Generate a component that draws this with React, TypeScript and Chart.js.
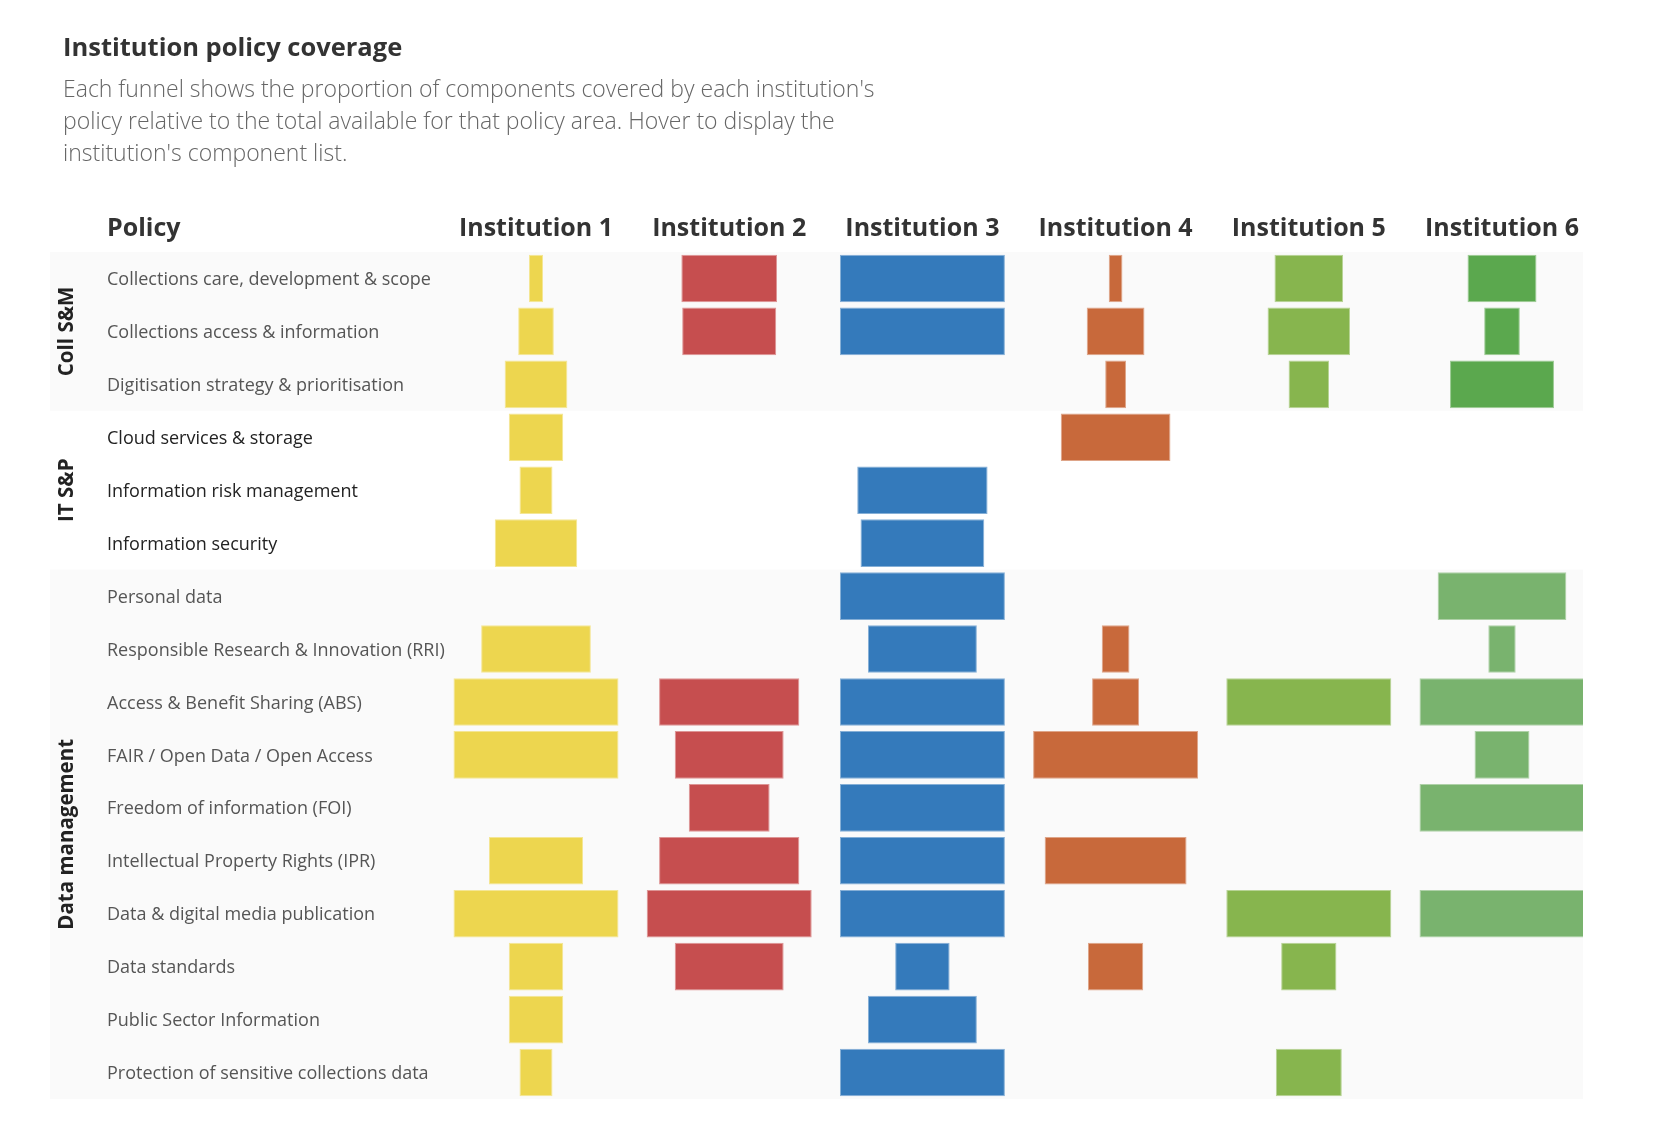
import React, { useEffect, useRef } from "react";
import { Chart, registerables } from "chart.js";

Chart.register(...registerables);

const titleText = "Institution policy coverage";
const subtitleLines = [
  "Each funnel shows the proportion of components covered by each institution's",
  "policy relative to the total available for that policy area. Hover to display the",
  "institution's component list.",
];

const institutions = [
  "Institution 1",
  "Institution 2",
  "Institution 3",
  "Institution 4",
  "Institution 5",
  "Institution 6",
];

const policies = [
  "Collections care, development & scope",
  "Collections access & information",
  "Digitisation strategy & prioritisation",
  "Cloud services & storage",
  "Information risk management",
  "Information security",
  "Personal data",
  "Responsible Research & Innovation (RRI)",
  "Access & Benefit Sharing (ABS)",
  "FAIR / Open Data / Open Access",
  "Freedom of information (FOI)",
  "Intellectual Property Rights (IPR)",
  "Data & digital media publication",
  "Data standards",
  "Public Sector Information",
  "Protection of sensitive collections data",
];

const groupNames = ["Coll S&M", "IT S&P", "Data management"];
const groupStart = [0, 3, 6];
const groupEnd = [2, 5, 15];

// coverage fraction (0..1) per policy row; null = not covered
const inst1 = [0.085, 0.216, 0.38, 0.33, 0.2, 0.5, null, 0.665, 1, 1, null, 0.57, 1, 0.33, 0.33, 0.2];
const inst2 = [0.58, 0.57, null, null, null, null, null, null, 0.85, 0.66, 0.49, 0.85, 1, 0.66, null, null];
const inst3 = [1, 1, null, null, 0.79, 0.75, 1, 0.66, 1, 1, 1, 1, 1, 0.33, 0.66, 1];
const inst4 = [0.083, 0.35, 0.126, 0.665, null, null, null, 0.168, 0.285, 1, null, 0.86, null, 0.335, null, null];
const inst5 = [0.416, 0.5, 0.245, null, null, null, null, null, 1, null, null, null, 1, 0.335, null, 0.4];
const inst6 = [0.418, 0.216, 0.63, null, null, null, 0.78, 0.166, 1, 0.333, 1, null, 1, null, null, null];

const coverage = [inst1, inst2, inst3, inst4, inst5, inst6];

// per-institution colours, by group (Coll S&M, IT S&P, Data management)
const instColors = [
  ["#EDD64F", "#EDD64F", "#EDD64F"],
  ["#C64E4F", "#C64E4F", "#C64E4F"],
  ["#347ABB", "#347ABB", "#347ABB"],
  ["#C8693B", "#C8693B", "#C8693B"],
  ["#87B54E", "#87B54E", "#87B54E"],
  ["#5BA84E", "#79B36E", "#79B36E"],
];

const FULL = 0.854; // full funnel width in column units
const W = 1666;
const H = 1130;

function groupOf(row: number) {
  for (let g = 0; g < groupNames.length; g++) {
    if (row >= groupStart[g] && row <= groupEnd[g]) return g;
  }
  return 0;
}

function tint(hex: string, amt: number) {
  const n = parseInt(hex.slice(1), 16);
  const r = (n >> 16) & 255, g = (n >> 8) & 255, b = n & 255;
  const m = (c: number) => Math.round(c + (255 - c) * amt);
  return `rgb(${m(r)},${m(g)},${m(b)})`;
}

const FONT = "'Open Sans', 'Noto Sans', sans-serif";

const decorPlugin = {
  id: "decor",
  beforeDatasetsDraw(chart: any) {
    const { ctx, chartArea, scales } = chart;
    const y = scales.y;
    const step = y.getPixelForValue(1) - y.getPixelForValue(0);
    ctx.save();
    for (let g = 0; g < groupNames.length; g++) {
      if (g % 2 === 1) continue;
      const top = y.getPixelForValue(groupStart[g]) - step / 2;
      const bot = y.getPixelForValue(groupEnd[g]) + step / 2;
      ctx.fillStyle = "#FAFAFA";
      ctx.fillRect(chartArea.left, top, chartArea.right - chartArea.left, bot - top);
    }
    ctx.restore();
  },
  afterDraw(chart: any) {
    const { ctx, scales } = chart;
    const x = scales.x;
    const y = scales.y;
    const step = y.getPixelForValue(1) - y.getPixelForValue(0);
    ctx.save();
    // title
    ctx.textAlign = "left";
    ctx.textBaseline = "alphabetic";
    ctx.fillStyle = "#333333";
    ctx.font = `bold 25.5px ${FONT}`;
    ctx.fillText(titleText, 63, 56);
    ctx.fillStyle = "#666666";
    ctx.font = `300 23px ${FONT}`;
    subtitleLines.forEach((l, i) => ctx.fillText(l, 63, 97 + i * 32));

    // headers
    const headerY = y.getPixelForValue(0) - step / 2 - 16;
    ctx.fillStyle = "#333333";
    ctx.font = `bold 25px ${FONT}`;
    ctx.textAlign = "left";
    ctx.fillText("Policy", 107, headerY);
    ctx.textAlign = "center";
    institutions.forEach((name, i) => {
      ctx.fillText(name, x.getPixelForValue(i), headerY);
    });

    // row labels
    ctx.textAlign = "left";
    ctx.textBaseline = "middle";
    ctx.font = `18px ${FONT}`;
    policies.forEach((p, i) => {
      const g = groupOf(i);
      ctx.fillStyle = g === 1 ? "#222222" : "#555555";
      ctx.fillText(p, 107, y.getPixelForValue(i) + 1.5);
    });

    // group labels
    ctx.font = `bold 20.5px ${FONT}`;
    ctx.fillStyle = "#222222";
    groupNames.forEach((gname, g) => {
      const cy = (y.getPixelForValue(groupStart[g]) + y.getPixelForValue(groupEnd[g])) / 2;
      ctx.save();
      ctx.translate(67, cy);
      ctx.rotate(-Math.PI / 2);
      ctx.textAlign = "center";
      ctx.textBaseline = "middle";
      ctx.fillText(gname, 0, 0);
      ctx.restore();
    });
    ctx.restore();
  },
};

export default function App() {
  const ref = useRef<HTMLCanvasElement | null>(null);
  useEffect(() => {
    if (!ref.current) return;
    const datasets = coverage.map((vals, i) => ({
      label: institutions[i],
      data: vals.map((v) => (v == null ? null : [i - (v * FULL) / 2, i + (v * FULL) / 2])),
      backgroundColor: (c: any) => instColors[i][groupOf(c.dataIndex)],
      borderColor: (c: any) => tint(instColors[i][groupOf(c.dataIndex)], 0.4),
      borderWidth: 1,
      borderSkipped: false,
      grouped: false,
      categoryPercentage: 1,
      barPercentage: 0.9,
    }));
    const left = 50, right = 1583, top = 252, bottom = 1099;
    const c0 = 536, pitch = 193.2;
    const chart = new Chart(ref.current, {
      type: "bar",
      data: { labels: policies, datasets: datasets as any },
      options: {
        indexAxis: "y",
        responsive: false,
        animation: false,
        devicePixelRatio: 1,
        layout: { padding: { left, top, right: W - right, bottom: H - bottom } },
        plugins: { legend: { display: false }, tooltip: { enabled: false }, title: { display: false } },
        scales: {
          x: {
            type: "linear",
            display: false,
            min: (left - c0) / pitch,
            max: (right - c0) / pitch,
          },
          y: { type: "category", display: false, offset: true },
        },
      },
      plugins: [decorPlugin],
    });
    return () => chart.destroy();
  }, []);
  return (
    <div style={{ position: "fixed", left: 0, top: 0, width: W, height: H, background: "#fff" }}>
      <canvas ref={ref} width={W} height={H} style={{ width: W, height: H, display: "block" }} />
    </div>
  );
}
